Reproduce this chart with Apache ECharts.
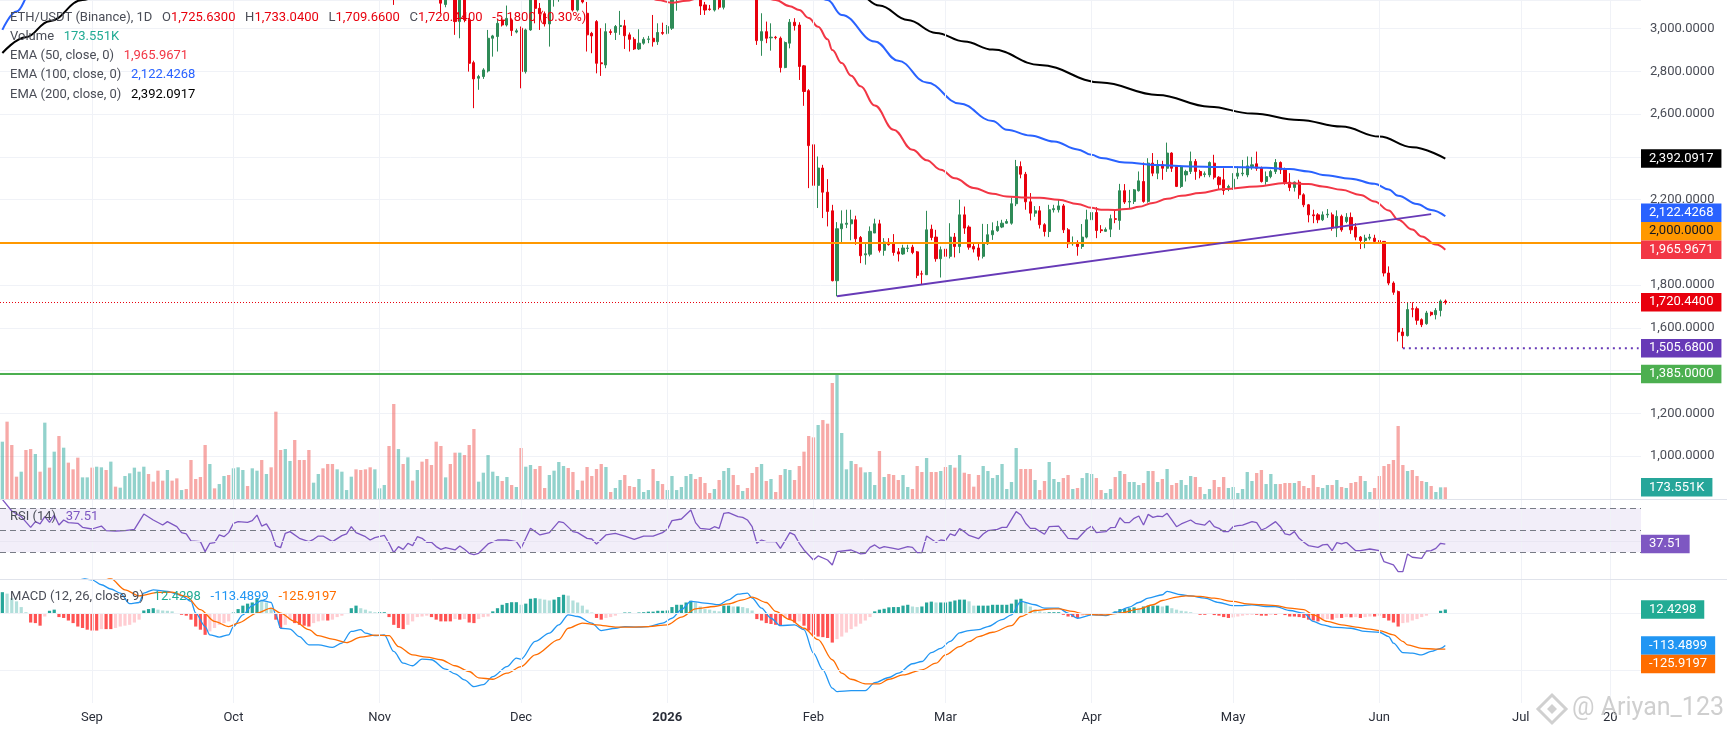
<!DOCTYPE html>
<html>
<head>
<meta charset="utf-8">
<title>ETH/USDT (Binance), 1D</title>
<script src="https://cdn.jsdelivr.net/npm/echarts@6.0.0/dist/echarts.min.js"></script>
<style>
html,body{margin:0;padding:0;background:#ffffff;}
#chart{width:1727px;height:735px;}
</style>
</head>
<body>
<div id="chart"></div>
<script>
// ================= DATA =================
const startDate = '2025-08-13';
const dayCount = 348;
const tickDates = ['2025-09-01','2025-10-01','2025-11-01','2025-12-01','2026-01-01','2026-02-01','2026-03-01','2026-04-01','2026-05-01','2026-06-01','2026-07-01','2026-07-20'];
const tickTexts = ['Sep','Oct','Nov','Dec','2026','Feb','Mar','Apr','May','Jun','Jul','20'];
const priceTickLabels = [3000,2800,2600,2200,1800,1600,1200,1000];

const opens = [
4600,4750,4550,4440,4430,4470,4330,4230,4330,4290,
4820,4780,4830,4380,4600,4500,4370,4300,4400,4420,
4320,4450,4480,4300,4320,4300,4310,4450,4520,4600,
4660,4710,4600,4540,4500,4480,4580,4450,4430,4450,
4400,4180,4150,4030,3870,4030,4020,4140,4150,4140,
4350,4480,4510,4490,4520,4690,4450,4510,4370,3850,
3830,4150,4250,3980,3890,3830,3700,3990,4020,3870,
3850,3800,3940,3960,4020,4150,4110,3950,3900,3840,
3850,3870,3890,3600,3290,3420,3310,3440,3400,3570,
3550,3420,3410,3240,3113,3210,3170,3033,3140,3041,
2841,2768,2776,2802,2955,2963,3041,3017,3041,2984,
3002,2799,2994,3160,3095,3070,3022,3140,3180,3200,
3250,3210,3087,3160,3072,2978,3033,2840,2830,2986,
2982,3010,3013,2971,2950,2905,2932,2950,2955,2939,
2982,2978,3002,3150,3200,3260,3300,3320,3180,3111,
3092,3087,3170,3100,3160,3230,3200,3180,3200,3190,
3180,2944,2986,2957,2960,2955,2818,2932,3030,3017,
2826,2710,2457,2267,2348,2235,2148,1821,2064,2085,
2087,2106,2023,1942,1945,2044,2087,1963,2001,1994,
1956,1946,1972,1978,1956,1853,1849,2062,2025,1924,
1969,1935,2025,1981,2129,2072,1981,1974,1935,1994,
2036,2055,2072,2090,2090,2181,2355,2319,2190,2137,
2148,2083,2051,2153,2153,2171,2059,1994,1997,1981,
2025,2106,2140,2059,2052,2062,2111,2103,2242,2189,
2192,2242,2285,2192,2371,2324,2363,2347,2418,2355,
2262,2316,2332,2379,2332,2318,2316,2371,2305,2293,
2257,2254,2310,2321,2316,2355,2368,2350,2285,2308,
2332,2374,2340,2282,2257,2282,2223,2176,2129,2129,
2106,2129,2129,2067,2122,2098,2117,2072,2025,2009,
2020,2020,2009,2005,1857,1810,1770,1581,1564,1690,
1690,1639,1620,1673,1662,1682,1725.63];

const highs = [
4790,4780,4600,4480,4500,4490,4380,4350,4360,4830,
4880,4950,4840,4620,4640,4530,4400,4420,4450,4430,
4480,4500,4490,4350,4340,4330,4470,4530,4620,4680,
4760,4720,4620,4560,4520,4600,4600,4480,4470,4460,
4410,4220,4170,4050,4050,4060,4160,4180,4170,4370,
4500,4540,4530,4540,4750,4700,4540,4520,4390,3900,
4190,4290,4270,4070,3950,3860,4020,4080,4040,3920,
3880,3960,3990,4040,4250,4160,4120,3970,3920,3880,
3900,3920,3900,3620,3470,3440,3460,3470,3600,3650,
3560,3450,3420,3260,3250,3230,3190,3160,3150,3050,
2850,2784,2815,2994,2971,3040,3050,3108,3048,3000,
3010,3000,3200,3195,3120,3080,3200,3220,3250,3300,
3280,3230,3170,3200,3125,2985,3040,3002,3025,2997,
3017,3083,3041,2982,2960,2997,2960,2966,3064,3025,
3028,3017,3180,3240,3300,3330,3350,3340,3210,3125,
3111,3190,3200,3200,3260,3250,3220,3230,3230,3210,
3200,3072,3033,3025,2966,2963,2940,3045,3049,3030,
2830,2717,2480,2402,2363,2296,2176,2095,2150,2153,
2153,2125,2030,2002,2075,2111,2106,2020,2020,2039,
1974,1989,1989,1989,1960,1868,2148,2083,2059,1981,
2051,2090,2044,2200,2168,2080,1997,1997,2087,2086,
2094,2101,2106,2109,2210,2386,2379,2330,2231,2170,
2170,2090,2176,2176,2200,2180,2067,2028,2010,2086,
2153,2165,2165,2081,2070,2130,2153,2274,2273,2246,
2250,2332,2374,2394,2418,2386,2382,2467,2422,2360,
2360,2340,2425,2390,2340,2332,2379,2410,2310,2347,
2270,2324,2355,2386,2402,2400,2425,2355,2332,2340,
2390,2379,2350,2324,2285,2293,2230,2180,2153,2137,
2145,2156,2140,2150,2130,2137,2140,2090,2030,2036,
2040,2036,2020,2005,1888,1818,1775,1600,1720,1720,
1700,1645,1680,1677,1693,1733,1733.04];

const lows = [
4570,4500,4400,4380,4400,4300,4200,4220,4250,4270,
4750,4720,4350,4340,4470,4340,4270,4280,4370,4270,
4300,4420,4280,4270,4290,4280,4300,4420,4500,4580,
4640,4580,4520,4480,4460,4470,4440,4420,4420,4380,
4160,4120,4010,3830,3850,4000,4000,4110,4120,4130,
4330,4460,4470,4470,4500,4420,4430,4340,3440,3650,
3800,4100,3950,3850,3780,3680,3690,3940,3850,3820,
3760,3780,3900,3940,4000,4080,3920,3860,3800,3780,
3820,3850,3550,3111,3250,3250,3290,3360,3380,3520,
3400,3390,3180,3072,3100,3145,2971,2955,3030,2799,
2628,2714,2765,2795,2869,2893,3010,3010,2966,2978,
2721,2790,2990,3025,2994,3010,2916,3103,3126,3180,
3150,3080,3080,3118,2893,2885,2791,2779,2815,2971,
2947,2971,2905,2893,2900,2900,2925,2932,2916,2924,
2971,2974,2994,3084,3180,3220,3250,3160,3064,3064,
3084,3080,3090,3090,3150,3160,3150,3160,3160,3150,
2924,2873,2932,2897,2950,2795,2815,2908,2991,2760,
2639,2254,2223,2161,2114,2075,1818,1748,1997,2067,
2010,1989,1903,1896,1935,2044,1953,1938,1985,1938,
1911,1942,1955,1945,1833,1802,1849,2010,1910,1836,
1916,1925,1930,1950,2040,1966,1953,1916,1925,1988,
2012,2050,2067,2088,2083,2170,2300,2153,2103,2120,
2065,2028,2025,2140,2140,2044,1974,1985,1938,1970,
2019,2090,2020,2044,2050,2025,2090,2059,2180,2156,
2180,2238,2186,2186,2310,2296,2293,2330,2330,2259,
2255,2285,2320,2293,2300,2305,2305,2295,2250,2223,
2240,2246,2296,2310,2305,2340,2335,2280,2270,2300,
2320,2320,2270,2240,2238,2204,2165,2094,2090,2090,
2100,2115,2055,2025,2050,2090,2040,2010,1969,1973,
2010,1995,1994,1841,1800,1755,1537,1505.68,1560,1650,
1615,1604,1615,1655,1640,1654,1709.66];

const closes = [
4750,4550,4440,4430,4470,4330,4230,4330,4290,4820,
4780,4830,4380,4600,4500,4370,4300,4400,4420,4320,
4450,4480,4300,4320,4300,4310,4450,4520,4600,4660,
4710,4600,4540,4500,4480,4580,4450,4430,4450,4400,
4180,4150,4030,3870,4030,4020,4140,4150,4140,4350,
4480,4510,4490,4520,4690,4450,4510,4370,3850,3830,
4150,4250,3980,3890,3830,3700,3990,4020,3870,3850,
3800,3940,3960,4020,4150,4110,3950,3900,3840,3850,
3870,3890,3600,3290,3420,3310,3440,3400,3570,3550,
3420,3410,3240,3119,3210,3170,3033,3140,3041,2838,
2765,2776,2807,2955,2966,3025,3017,3048,2991,2990,
2799,2994,3160,3095,3070,3022,3140,3180,3200,3250,
3210,3087,3160,3125,2971,2966,2838,2836,2986,2982,
3010,3015,2967,2950,2905,2932,2950,2952,2939,2982,
2978,3010,3150,3200,3260,3300,3320,3200,3106,3087,
3090,3150,3100,3160,3230,3200,3180,3200,3190,3180,
2944,2986,2955,2960,2958,2818,2935,3030,3014,2823,
2706,2453,2267,2348,2235,2145,1821,2064,2087,2090,
2106,2017,1938,1947,2052,2087,1963,2002,1990,1953,
1946,1974,1974,1953,1846,1852,2059,2023,1924,1966,
1935,2025,1981,2129,2067,1978,1969,1935,1994,2036,
2055,2075,2090,2098,2181,2355,2319,2190,2137,2148,
2083,2051,2153,2158,2171,2059,1994,1997,1981,2025,
2106,2140,2056,2055,2060,2111,2108,2242,2189,2192,
2246,2288,2192,2371,2324,2363,2347,2418,2347,2262,
2355,2332,2379,2332,2312,2321,2374,2305,2270,2243,
2262,2296,2324,2324,2358,2363,2347,2285,2308,2332,
2374,2340,2277,2257,2282,2223,2176,2129,2125,2106,
2129,2132,2067,2122,2059,2118,2059,2025,2009,2020,
2025,2005,2000,1857,1810,1767,1581,1564,1686,1688,
1636,1615,1670,1662,1682,1725.62,1720.44];

// volume in thousands (K)
const volumes = [
850,1147,801,331,405,727,741,667,405,1132,
465,702,934,761,539,440,613,321,321,465,
479,470,430,554,183,168,341,381,465,405,
479,371,257,420,272,430,272,306,133,148,
578,297,326,801,519,158,222,341,356,455,
470,430,193,455,420,578,371,470,1295,727,
741,564,875,578,578,727,242,371,455,519,
519,440,405,133,331,440,430,440,470,440,
158,208,786,1409,741,519,618,272,430,554,
593,504,850,786,321,519,687,687,652,801,
1038,257,390,652,
405,341,267,326,208,178,756,479,504,445,
489,163,356,420,549,489,460,400,133,272,
475,341,445,519,475,104,163,282,356,193,
178,297,104,133,445,267,222,133,341,133,
178,341,371,297,326,237,89,148,282,415,
460,356,208,119,163,386,475,519,267,297,
104,356,445,430,282,489,702,934,914,1097,
1171,1117,1720,1854,979,440,564,519,470,395,
400,208,712,326,371,356,282,356,178,148,
489,400,608,400,400,415,475,504,465,652,
390,371,183,356,489,415,311,356,519,148,
252,756,445,445,445,282,133,267,549,297,
252,311,356,148,163,311,386,371,311,133,
89,148,326,415,371,252,252,208,237,415,
415,252,297,445,208,237,282,208,341,326,
178,74,148,282,178,326,163,178,89,148,
400,267,386,430,222,371,222,222,237,237,
237,267,193,163,356,178,163,208,208,282,
178,163,237,252,341,267,104,163,341,489,
519,578,1083,504,415,430,341,267,252,193,
104,173,173.551];

// EMA readings: [dayIndex, value]
const ema50 = [[0,4050],[20,4300],[40,4400],[60,4320],[80,4150],[90,4000],[100,3780],[110,3560],[120,3400],[130,3230],[136,3160],[139,3134],[142,3121],[145,3130],[148,3145],[152,3160],[156,3170],[160,3160],[164,3134],[167,3105],[169,3087],[171,3050],[173,3009],[175,2950],[176,2900],[178,2839],[180,2780],[182,2730],[185,2640],[189,2527],[193,2433],[196,2385],[199,2340],[202,2300],[206,2255],[210,2228],[213,2215],[217,2210],[220,2209],[224,2200],[228,2180],[231,2162],[233,2153],[236,2152],[239,2158],[241,2167],[244,2185],[247,2204],[250,2218],[254,2231],[259,2250],[266,2262],[272,2278],[277,2273],[280,2262],[284,2246],[288,2222],[291,2192],[294,2150],[296,2106],[299,2060],[301,2028],[304,1990],[306,1965.9671]];
const ema100 = [[0,2994],[3,3080],[6,3165],[10,3260],[20,3450],[40,3680],[60,3790],[80,3820],[100,3740],[120,3560],[140,3420],[160,3300],[170,3200],[175,3134],[178,3064],[185,2940],[190,2850],[196,2748],[203,2650],[210,2568],[213,2527],[218,2500],[223,2472],[228,2435],[231,2410],[233,2395],[238,2374],[245,2362],[252,2355],[258,2353],[263,2352],[268,2349],[273,2343],[277,2332],[280,2316],[286,2298],[291,2274],[294,2248],[296,2218],[300,2180],[303,2152],[306,2122.4268]];
const ema200 = [[0,2886],[5,2960],[10,3035],[17,3134],[25,3240],[40,3400],[60,3530],[80,3600],[100,3590],[120,3520],[140,3440],[160,3360],[175,3230],[181,3170],[186,3108],[192,3040],[198,2980],[204,2940],[210,2902],[220,2830],[233,2748],[245,2690],[256,2635],[265,2603],[275,2573],[284,2542],[292,2495],[299,2445],[306,2392.0917]];

const rsi14 = [[0,78.2],[2,67.6],[4,62.4],[6,52.7],[7,57.9],[8,55.8],[9,62.4],[10,57.3],[11,63.9],[12,54.8],[13,59.4],[14,57],[16,56.4],[17,52.7],[19,51.2],[21,53.9],[22,49.7],[24,49.4],[26,49.7],[28,50.9],[30,64.8],[32,59.4],[34,54.8],[35,57.9],[37,53.3],[38,47.9],[39,46.7],[40,40.3],[42,39.7],[43,30.6],[44,38.2],[45,38.8],[46,45.8],[47,44.2],[48,47.9],[49,56.4],[50,57.9],[52,57.3],[53,58.8],[54,63.9],[55,53.9],[56,55.8],[57,48.8],[58,35.8],[59,34.2],[60,47.3],[61,48.8],[63,42.7],[65,39.7],[66,41.8],[67,44.8],[68,44.8],[70,39.7],[72,45.2],[73,46.7],[74,53.3],[75,47.9],[77,44.2],[78,41.2],[79,43.3],[81,45.5],[82,38.2],[83,29.7],[84,35.2],[85,32.7],[86,38.2],[87,36.1],[88,44.2],[89,42.7],[90,39.1],[91,39.1],[92,35.2],[93,32.7],[94,34.2],[96,32.1],[97,35.8],[98,32.7],[99,29.1],[100,27.9],[101,29.1],[103,37.6],[105,41.2],[107,41.2],[109,39.7],[110,33.6],[112,51.8],[114,45.8],[116,47.9],[118,57.9],[119,57],[121,48.8],[122,47.9],[124,42.7],[125,42.1],[126,37.6],[128,45.8],[130,47.3],[132,44.8],[134,41.8],[136,44.8],[138,44.8],[140,47.9],[141,50.9],[142,58.8],[144,60.3],[146,68.5],[147,57],[148,51.8],[150,50.9],[151,53.3],[152,51.8],[153,65.5],[154,66.1],[156,62.4],[157,61.8],[158,59.4],[159,53.3],[160,38.2],[161,41.2],[162,39.7],[164,39.7],[165,33.6],[166,40.6],[167,47.9],[168,45.8],[169,38.2],[170,32.1],[172,23],[173,26.7],[175,23],[176,18.5],[177,30.6],[180,32.1],[182,28.5],[183,29.1],[184,34.5],[185,36.7],[186,33.6],[187,35.2],[189,33.6],[190,32.7],[192,35.2],[193,34.5],[194,29.7],[195,29.7],[196,44.8],[198,39.1],[199,41.2],[200,40.6],[201,46.7],[202,45.2],[203,51.5],[204,48.8],[205,45.3],[207,42.4],[208,46.7],[209,49.7],[211,50.9],[212,52.7],[213,52.7],[215,67],[216,63.9],[217,56.4],[218,51.8],[219,51.8],[221,46.4],[222,53.3],[224,53.9],[226,42.7],[228,42.1],[230,51.2],[231,53.9],[232,47.9],[234,48.8],[235,52.4],[236,52.7],[237,61.5],[238,57],[239,57],[240,60.9],[241,63],[242,54.8],[243,64.5],[244,61.8],[245,63],[246,62.4],[247,65.5],[248,59.4],[249,53.3],[250,55.8],[252,59.4],[253,56.4],[255,54.8],[256,58.8],[257,53.3],[258,51.8],[259,48.8],[260,48.8],[261,53.3],[262,54.2],[263,54.8],[265,57.9],[266,57],[267,50.3],[268,52.1],[270,57.9],[271,53.3],[272,46.7],[273,45.8],[274,48.8],[275,42.7],[276,39.1],[277,36.1],[279,34.5],[280,36.7],[281,37.3],[282,31.5],[283,38.8],[284,37.6],[285,39.1],[287,31.5],[288,31.5],[290,33],[292,31.5],[293,21.5],[295,18.5],[296,12.4],[297,12.4],[298,28.5],[299,25.5],[301,24.5],[302,31.2],[303,31.5],[304,33.6],[305,38.2],[306,37.51]];

const macdLine = [[0,230],[5,175],[10,150],[14,135],[19,116],[21,99],[23,84],[25,70],[27,33],[29,37],[30,70],[32,81],[35,76],[37,66],[38,60],[40,41],[41,0],[43,-47],[44,-76],[46,-84],[48,-76],[49,-47],[51,-6],[53,26],[55,44],[57,37],[58,-6],[59,-53],[61,-56],[63,-82],[65,-111],[67,-111],[70,-120],[72,-105],[74,-64],[76,-58],[77,-70],[79,-79],[81,-76],[83,-134],[85,-175],[87,-184],[89,-161],[91,-163],[94,-196],[96,-212],[98,-233],[100,-257],[102,-250],[104,-222],[107,-187],[109,-157],[110,-161],[113,-99],[116,-70],[118,-41],[120,-6],[122,-12],[125,-35],[127,-61],[130,-53],[132,-47],[135,-49],[137,-47],[140,-35],[142,-18],[144,12],[146,41],[149,35],[152,29],[154,46],[156,66],[158,70],[159,52],[161,17],[163,-18],[165,-44],[168,-41],[170,-58],[172,-140],[174,-198],[176,-262],[177,-274],[180,-271],[183,-271],[185,-243],[188,-225],[190,-210],[193,-177],[195,-169],[197,-138],[199,-123],[201,-99],[203,-69],[205,-61],[207,-58],[209,-47],[212,-23],[214,-6],[216,41],[219,29],[221,17],[224,17],[226,0],[228,-18],[231,-6],[234,-9],[236,2],[239,21],[241,37],[243,52],[246,64],[247,76],[250,64],[252,60],[255,52],[258,37],[261,26],[263,26],[265,29],[268,23],[270,23],[273,9],[276,0],[278,-29],[280,-41],[282,-49],[286,-53],[289,-64],[292,-67],[294,-82],[295,-105],[297,-138],[299,-140],[301,-146],[303,-134],[305,-123],[306,-113.4899]];
const signalLine = [[0,157],[5,165],[10,168],[15,160],[20,140],[23,120],[26,81],[29,60],[33,72],[36,73],[39,58],[42,12],[45,-29],[48,-47],[50,-35],[54,0],[57,17],[59,0],[62,-29],[65,-58],[67,-79],[70,-91],[73,-103],[76,-84],[79,-77],[82,-79],[84,-117],[87,-146],[90,-154],[93,-163],[96,-184],[99,-204],[101,-226],[104,-231],[107,-210],[110,-187],[113,-146],[118,-93],[120,-53],[123,-35],[126,-41],[130,-49],[133,-49],[137,-47],[141,-41],[144,-14],[147,15],[151,23],[154,32],[157,46],[159,56],[162,37],[164,6],[167,-23],[170,-53],[173,-93],[176,-163],[178,-210],[180,-231],[183,-247],[186,-247],[188,-231],[191,-216],[195,-198],[198,-175],[200,-146],[203,-117],[205,-100],[207,-82],[210,-67],[214,-44],[216,-12],[219,9],[222,14],[224,15],[227,6],[229,-2],[232,-6],[234,-6],[237,0],[241,14],[244,29],[246,44],[249,56],[251,60],[254,58],[257,52],[261,41],[264,32],[267,29],[270,26],[273,17],[276,12],[278,-6],[281,-29],[284,-41],[287,-49],[290,-56],[292,-61],[295,-76],[297,-99],[298,-111],[301,-123],[304,-126],[306,-125.9197]];

const macdHist = [
73,68,52,41,21,3,-33,-35,-44,-12,
8,12,-14,-17,-26,-35,-47,-52,-58,-61,
-61,-56,-56,-56,-52,-47,-44,-41,-33,-23,
9,14,17,12,9,8,6,-3,-6,-9,
-23,-47,-58,-76,-64,-52,-41,-35,-29,2,
14,26,33,37,52,47,37,17,-23,-52,
-41,-23,-35,-41,-44,-47,-35,-29,-26,-26,
-23,-14,-9,-3,17,26,17,12,6,3,
3,3,-14,-41,-52,-56,-41,-29,-14,-12,
-9,-14,-23,-29,-29,-29,-21,-23,-21,-33,
-35,-21,-14,-12,
6,17,29,35,38,38,29,33,50,52,
50,47,44,47,56,64,61,44,37,26,
12,2,-17,-23,-17,-14,-9,-3,2,2,
-2,2,3,5,5,8,8,9,21,29,
29,37,43,37,23,14,12,8,6,26,
26,23,23,21,17,9,-21,-26,-35,-38,
-41,-44,-17,-23,-33,-29,-44,-61,-76,-82,
-84,-87,-103,-91,-82,-68,-56,-47,-37,-26,
-14,6,12,15,20,21,21,26,29,23,
21,23,37,40,37,37,37,40,44,47,
47,41,26,26,26,26,29,29,29,29,
33,47,50,37,23,12,6,3,3,3,
3,-6,-12,-14,-17,-9,-6,-3,-6,-6,
-3,-2,6,14,14,17,20,17,23,26,
26,26,23,26,17,12,8,6,3,0,
-6,-6,-3,-7,-9,-14,-17,-15,-12,-9,
-7,-6,-6,-9,-9,-6,-6,-3,-7,-12,
-12,-14,-17,-23,-26,-29,-23,-21,-23,-17,
-17,-14,-15,-14,-17,-14,-12,-12,-9,-17,
-26,-33,-47,-35,-33,-26,-21,-14,-9,-3,
-1,8,12.4298];

// drawings
const trendLine = [[177,1748],[303,2132.5]];
const horizontalLevels = [2000, 1385];
const rayStartIndex = 297;
const rayValue = 1505.68;
const rsiBands = [70, 50, 30];

// ================= STYLE CONSTANTS =================
const UP = '#2e8b57', DOWN = '#e8000d';
const VOL_UP = 'rgba(38,166,154,0.5)', VOL_DOWN = 'rgba(239,83,80,0.5)';
const GRID_RIGHT = 86;
const FONT = 'Roboto';
const TXT = '#4a4d57';
const GRIDLINE = '#f0f2f7';

// ================= BUILD =================
const dates = [];
(function(){
  const t0 = Date.parse(startDate + 'T00:00:00Z');
  for (let i = 0; i < dayCount; i++) dates.push(new Date(t0 + i * 86400000).toISOString().slice(0, 10));
})();
const last = closes.length - 1;
const candleData = opens.map((o, i) => [o, closes[i], lows[i], highs[i]]);
const volData = volumes.map((v, i) => ({ value: v, itemStyle: { color: closes[i] >= opens[i] ? VOL_UP : VOL_DOWN } }));
const histData = macdHist.map((v, i) => {
  const p = i > 0 ? macdHist[i - 1] : v;
  let c;
  if (v >= 0) c = v >= p ? '#26a69a' : '#b2dfdb';
  else c = v <= p ? '#ff5252' : '#ffcdd2';
  return { value: v, itemStyle: { color: c } };
});
const tickSet = new Set(tickDates);
const fmt4 = v => Number(v).toLocaleString('en-US', { minimumFractionDigits: 4, maximumFractionDigits: 4 });
const vGrid = tickDates.map(d => ({ xAxis: d }));
const vGridLine = { silent: true, symbol: 'none', label: { show: false }, lineStyle: { color: GRIDLINE, width: 1, type: 'solid' }, data: vGrid, animation: false };

const chart = echarts.init(document.getElementById('chart'), null, { renderer: 'canvas', width: 1727, height: 735 });

const xAxisBase = g => ({
  type: 'category', gridIndex: g, data: dates, boundaryGap: true,
  show: g === 2,
  axisLine: { show: false }, axisTick: { show: false }, splitLine: { show: false },
  axisLabel: {
    show: g === 2, margin: 8, fontSize: 13, fontFamily: FONT, color: '#2a2e39',
    interval: (idx, val) => tickSet.has(val),
    formatter: val => {
      const t = tickTexts[tickDates.indexOf(val)];
      return /^\d{4}$/.test(t) ? '{y|' + t + '}' : t;
    },
    rich: { y: { fontWeight: 'bold', fontSize: 13, fontFamily: FONT, color: '#2a2e39' } }
  }
});

const option = {
  animation: false,
  backgroundColor: '#ffffff',
  grid: [
    { left: 0, right: GRID_RIGHT, top: 0, height: 499, containLabel: false, outerBoundsMode: 'none' },
    { left: 0, right: GRID_RIGHT, top: 499, height: 80, containLabel: false, outerBoundsMode: 'none' },
    { left: 0, right: GRID_RIGHT, top: 579, height: 124, containLabel: false, outerBoundsMode: 'none' }
  ],
  xAxis: [xAxisBase(0), xAxisBase(1), xAxisBase(2)],
  yAxis: [
    {
      type: 'value', gridIndex: 0, position: 'right', min: 800, max: 3134, interval: 200, scale: false,
      axisLine: { show: false }, axisTick: { show: false },
      splitLine: { show: true, lineStyle: { color: GRIDLINE, width: 1 } },
      axisLabel: {
        margin: 9, fontSize: 13, fontFamily: FONT, color: TXT, showMinLabel: false, showMaxLabel: false,
        formatter: v => priceTickLabels.indexOf(v) >= 0 ? fmt4(v) : ''
      }
    },
    { type: 'value', gridIndex: 0, min: 0, max: 7400, show: false, splitLine: { show: false } },
    { type: 'value', gridIndex: 1, min: 5.7, max: 78.5, show: false, splitLine: { show: false } },
    { type: 'value', gridIndex: 2, min: -314, max: 119, show: false, splitLine: { show: false } }
  ],
  series: [
    {
      name: 'Volume', type: 'bar', xAxisIndex: 0, yAxisIndex: 1, data: volData, barWidth: '70%', z: 1,
      markLine: vGridLine
    },
    {
      name: 'ETH/USDT', type: 'candlestick', xAxisIndex: 0, yAxisIndex: 0, data: candleData, barWidth: 2.6, z: 3,
      clip: true,
      itemStyle: { color: UP, color0: DOWN, borderColor: UP, borderColor0: DOWN, borderWidth: 1 }
    },
    { name: 'EMA200', type: 'line', xAxisIndex: 0, yAxisIndex: 0, data: ema200, showSymbol: false, smooth: 0.4, smoothMonotone: 'x', z: 4, lineStyle: { color: '#000000', width: 2 }, clip: true },
    { name: 'EMA100', type: 'line', xAxisIndex: 0, yAxisIndex: 0, data: ema100, showSymbol: false, smooth: 0.4, smoothMonotone: 'x', z: 4, lineStyle: { color: '#2962ff', width: 2 }, clip: true },
    { name: 'EMA50', type: 'line', xAxisIndex: 0, yAxisIndex: 0, data: ema50, showSymbol: false, smooth: 0.4, smoothMonotone: 'x', z: 4, lineStyle: { color: '#f23645', width: 2 }, clip: true },
    {
      name: 'Levels', type: 'line', xAxisIndex: 0, yAxisIndex: 0, data: [], z: 5,
      markLine: {
        silent: true, symbol: 'none', animation: false, label: { show: false },
        data: [
          { yAxis: horizontalLevels[0], lineStyle: { color: '#ff9800', width: 2, type: 'solid' } },
          { yAxis: horizontalLevels[1], lineStyle: { color: '#4caf50', width: 2, type: 'solid' } },
          { yAxis: closes[last], lineStyle: { color: DOWN, width: 1, type: [1, 2] } }
        ]
      }
    },
    { name: 'Trend', type: 'line', xAxisIndex: 0, yAxisIndex: 0, data: trendLine, showSymbol: false, z: 6, lineStyle: { color: '#673ab7', width: 2 } },
    {
      name: 'Ray', type: 'line', xAxisIndex: 0, yAxisIndex: 0, z: 6, showSymbol: false,
      data: [[rayStartIndex, rayValue], [dayCount - 1, rayValue]],
      lineStyle: { color: '#673ab7', width: 2, type: [2, 4] }
    },
    {
      name: 'RSI', type: 'line', xAxisIndex: 1, yAxisIndex: 2, data: rsi14, showSymbol: false, z: 4,
      lineStyle: { color: '#7e57c2', width: 1.3 },
      markArea: { silent: true, data: [[{ yAxis: rsiBands[0] }, { yAxis: rsiBands[2] }]], itemStyle: { color: 'rgba(126,87,194,0.1)' } },
      markLine: {
        silent: true, symbol: 'none', animation: false, label: { show: false },
        data: [
          ...vGrid,
          { yAxis: 40, lineStyle: { color: '#e9e6f2', width: 1, type: 'solid' } },
          ...rsiBands.map(v => ({ yAxis: v, lineStyle: { color: '#787b86', width: 1, type: [6, 4] } }))
        ],
        lineStyle: { color: GRIDLINE, width: 1, type: 'solid' }
      }
    },
    {
      name: 'Histogram', type: 'bar', xAxisIndex: 2, yAxisIndex: 3, data: histData, barWidth: '68%', z: 2,
      markLine: {
        silent: true, symbol: 'none', animation: false, label: { show: false },
        lineStyle: { color: GRIDLINE, width: 1, type: 'solid' },
        data: [...vGrid, { yAxis: 0 }, { yAxis: -200 }]
      }
    },
    { name: 'MACD', type: 'line', xAxisIndex: 2, yAxisIndex: 3, data: macdLine, showSymbol: false, smooth: 0.3, smoothMonotone: 'x', z: 4, lineStyle: { color: '#2196f3', width: 1.3 } },
    { name: 'Signal', type: 'line', xAxisIndex: 2, yAxisIndex: 3, data: signalLine, showSymbol: false, smooth: 0.3, smoothMonotone: 'x', z: 4, lineStyle: { color: '#ff6d00', width: 1.3 } }
  ]
};

chart.setOption(option);

// ================= ANNOTATIONS =================
function textEl(x, y, text, rich) {
  return {
    type: 'text', x: x, y: y, silent: true, z: 50,
    style: { text: text, rich: rich, font: '13px ' + FONT, fill: TXT, verticalAlign: 'middle', align: 'left' }
  };
}
const r = {
  t: { fill: TXT, fontSize: 13, fontFamily: FONT },
  red: { fill: DOWN, fontSize: 13, fontFamily: FONT },
  tl: { fill: '#22ab94', fontSize: 13, fontFamily: FONT },
  e50: { fill: '#f23645', fontSize: 13, fontFamily: FONT },
  e100: { fill: '#2962ff', fontSize: 13, fontFamily: FONT },
  e200: { fill: '#000000', fontSize: 13, fontFamily: FONT },
  pu: { fill: '#7e57c2', fontSize: 13, fontFamily: FONT },
  bl: { fill: '#2196f3', fontSize: 13, fontFamily: FONT },
  or: { fill: '#ff6d00', fontSize: 13, fontFamily: FONT }
};
const chg = closes[last] - closes[last - 1];
const chgPct = chg / closes[last - 1] * 100;
const sgn = v => (v < 0 ? '-' : '+');
const lastOf = a => a[a.length - 1][1];
const volText = volumes[last].toFixed(3) + 'K';

function buildGraphics() {
  const W = chart.getWidth();
  const right = W - GRID_RIGHT;
  const H = 18.5;
  const els = [];
  // pane separators
  [499.5, 579.5].forEach(y => els.push({ type: 'line', silent: true, z: 40, shape: { x1: 0, y1: y, x2: W, y2: y }, style: { stroke: '#e0e3eb', lineWidth: 1 } }));
  // legends
  els.push(textEl(10, 17.5,
    '{t|ETH/USDT (Binance), 1D}   {t|O}{red|' + fmt4(opens[last]) + '}   {t|H}{red|' + fmt4(highs[last]) + '}   {t|L}{red|' + fmt4(lows[last]) + '}   {t|C}{red|' + fmt4(closes[last]) + '}   {red|' + sgn(chg) + fmt4(Math.abs(chg)) + ' (' + sgn(chg) + Math.abs(chgPct).toFixed(2) + '%)}', r));
  els.push(textEl(10, 36.7, '{t|Volume}   {tl|' + volText + '}', r));
  els.push(textEl(10, 55.9, '{t|EMA (50, close, 0)}   {e50|' + fmt4(lastOf(ema50)) + '}', r));
  els.push(textEl(10, 75.1, '{t|EMA (100, close, 0)}   {e100|' + fmt4(lastOf(ema100)) + '}', r));
  els.push(textEl(10, 94.3, '{t|EMA (200, close, 0)}   {e200|' + fmt4(lastOf(ema200)) + '}', r));
  els.push(textEl(10, 516.7, '{t|RSI (14)}   {pu|' + lastOf(rsi14).toFixed(2) + '}', r));
  els.push(textEl(10, 596.7, '{t|MACD (12, 26, close, 9)}   {tl|' + macdHist[last].toFixed(4) + '}   {bl|' + lastOf(macdLine).toFixed(4) + '}   {or|' + lastOf(signalLine).toFixed(4) + '}', r));

  // axis value boxes
  const groups = [
    { axis: 0, dir: 'up', items: [
      { v: lastOf(ema200), text: fmt4(lastOf(ema200)), bg: '#000000' },
      { v: lastOf(ema100), text: fmt4(lastOf(ema100)), bg: '#2962ff' },
      { v: horizontalLevels[0], text: fmt4(horizontalLevels[0]), bg: '#ff9800', fg: '#131722' },
      { v: lastOf(ema50), text: fmt4(lastOf(ema50)), bg: '#f23645' },
      { v: closes[last], text: fmt4(closes[last]), bg: DOWN },
      { v: rayValue, text: fmt4(rayValue), bg: '#673ab7' },
      { v: horizontalLevels[1], text: fmt4(horizontalLevels[1]), bg: '#4caf50' }
    ] },
    { axis: 1, dir: 'up', items: [{ v: volumes[last], text: volText, bg: '#26a69a' }] },
    { axis: 2, dir: 'up', items: [{ v: lastOf(rsi14), text: lastOf(rsi14).toFixed(2), bg: '#7e57c2' }] },
    { axis: 3, dir: 'down', items: [
      { v: macdHist[last], text: macdHist[last].toFixed(4), bg: '#22ab94' },
      { v: lastOf(macdLine), text: lastOf(macdLine).toFixed(4), bg: '#2196f3' },
      { v: lastOf(signalLine), text: lastOf(signalLine).toFixed(4), bg: '#ff6d00' }
    ] }
  ];
  groups.forEach(g => {
    g.items.forEach(it => { it.y = chart.convertToPixel({ yAxisIndex: g.axis }, it.v); });
    const s = g.items.slice().sort((a, b) => a.y - b.y);
    if (g.dir === 'up') {
      for (let k = s.length - 2; k >= 0; k--) if (s[k].y > s[k + 1].y - H) s[k].y = s[k + 1].y - H;
    } else {
      for (let k = 1; k < s.length; k++) if (s[k].y < s[k - 1].y + H) s[k].y = s[k - 1].y + H;
    }
    s.forEach(it => els.push({
      type: 'text', x: right, y: it.y, silent: true, z: 60,
      style: { text: it.text, fill: it.fg || '#ffffff', font: '13px ' + FONT, backgroundColor: it.bg, padding: [2, 8, 2, 8], lineHeight: 14.5, verticalAlign: 'middle', align: 'left' }
    }));
  });

  // watermark
  const wx = 1552, wy = 709;
  els.push({ type: 'polygon', silent: true, z: 70, shape: { points: [[wx, wy - 14], [wx + 14, wy], [wx, wy + 14], [wx - 14, wy]] }, style: { fill: 'none', stroke: 'rgba(150,150,150,0.45)', lineWidth: 3 } });
  els.push({ type: 'polygon', silent: true, z: 70, shape: { points: [[wx, wy - 5], [wx + 5, wy], [wx, wy + 5], [wx - 5, wy]] }, style: { fill: 'rgba(150,150,150,0.45)' } });
  els.push({ type: 'text', x: 1572, y: wy, silent: true, z: 70, style: { text: '@ Ariyan_123', font: '25px ' + FONT, fill: 'rgba(140,140,140,0.42)', stroke: 'rgba(255,255,255,0.6)', lineWidth: 1, verticalAlign: 'middle', align: 'left' } });
  return els;
}

chart.setOption({ graphic: buildGraphics() });
</script>
</body>
</html>
